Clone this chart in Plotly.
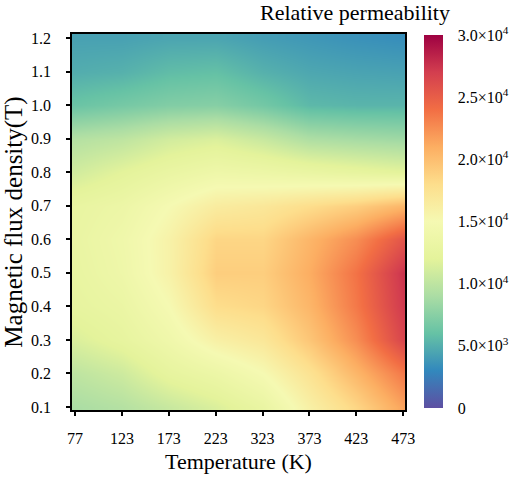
import plotly.graph_objects as go

temperatures = ["77", "123", "173", "223", "323", "373", "423", "473"]
flux_density = [0.1, 0.2, 0.3, 0.4, 0.5, 0.6, 0.7, 0.8, 0.9, 1.0, 1.1, 1.2]

# relative permeability, rows = flux density (0.1 -> 1.2), columns = temperatures
perm_b01 = [9000, 9500, 10500, 11500, 13000, 16000, 18500, 21500]
perm_b02 = [10000, 10800, 12500, 13500, 15000, 17500, 20500, 23500]
perm_b03 = [11500, 12500, 14000, 16000, 17000, 19500, 22500, 26500]
perm_b04 = [12500, 13200, 15000, 18000, 18500, 20500, 23500, 27200]
perm_b05 = [12800, 13800, 15800, 19000, 19000, 21000, 23800, 27500]
perm_b06 = [13000, 14000, 15800, 18500, 18500, 20500, 22500, 25500]
perm_b07 = [12800, 13500, 15000, 16500, 17000, 18000, 19000, 20500]
perm_b08 = [11000, 12000, 13000, 13800, 13500, 13000, 12500, 12000]
perm_b09 = [9500, 10000, 11000, 11500, 10500, 9200, 8800, 8500]
perm_b10 = [6200, 6700, 7200, 7400, 6600, 5500, 5300, 5300]
perm_b11 = [4900, 5100, 5700, 5900, 5100, 4600, 4400, 4300]
perm_b12 = [4300, 4300, 4500, 4500, 4100, 3800, 3500, 3300]

z = [perm_b01, perm_b02, perm_b03, perm_b04, perm_b05, perm_b06,
     perm_b07, perm_b08, perm_b09, perm_b10, perm_b11, perm_b12]

cbar_vals = [0, 5000, 10000, 15000, 20000, 25000, 30000]
cbar_text = ["0", "5.0×10<sup>3</sup>", "1.0×10<sup>4</sup>", "1.5×10<sup>4</sup>",
             "2.0×10<sup>4</sup>", "2.5×10<sup>4</sup>", "3.0×10<sup>4</sup>"]

colorscale = [
    [0.0, "rgb(94,79,162)"],
    [0.1, "rgb(50,136,189)"],
    [0.2, "rgb(102,194,165)"],
    [0.3, "rgb(171,221,164)"],
    [0.4, "rgb(228,243,155)"],
    [0.5, "rgb(245,249,178)"],
    [0.6, "rgb(253,222,140)"],
    [0.7, "rgb(252,174,98)"],
    [0.8, "rgb(242,110,68)"],
    [0.9, "rgb(211,62,79)"],
    [1.0, "rgb(158,1,66)"],
]

xidx = list(range(len(temperatures)))
FF = "Liberation Serif, Times New Roman, serif"

fig = go.Figure(go.Heatmap(
    x=xidx, y=flux_density, z=z,
    zmin=0, zmax=30000, zsmooth="best",
    colorscale=colorscale,
    colorbar=dict(
        x=(424 - 72) / 333, xanchor="left", xpad=0,
        y=(410 - 408) / 376, yanchor="bottom", ypad=0,
        len=(408 - 35) / 376, lenmode="fraction",
        thickness=19, outlinewidth=0,
        tickvals=cbar_vals, ticktext=cbar_text,
        ticks="outside", ticklen=12, tickcolor="rgba(0,0,0,0)",
        tickfont=dict(family=FF, size=16, color="black"),
    ),
))

fig.update_layout(
    width=520, height=478,
    margin=dict(l=72, r=115, t=34, b=68, autoexpand=False),
    paper_bgcolor="white", plot_bgcolor="white",
    font=dict(family=FF, color="black"),
    xaxis=dict(
        range=[-0.064, 7.04], tickvals=xidx, ticktext=temperatures,
        ticks="outside", ticklen=4, tickwidth=1.5, tickcolor="black",
        ticklabelstandoff=9, automargin=False,
        showline=True, linecolor="black", linewidth=1.8, mirror=True,
        showgrid=False, zeroline=False,
        tickfont=dict(family=FF, size=16, color="black"),
        title=dict(text="Temperature (K)", font=dict(family=FF, size=22, color="black"), standoff=8),
    ),
    yaxis=dict(
        range=[0.091, 1.212], tickvals=flux_density,
        ticktext=[f"{v:.1f}" for v in flux_density],
        ticks="outside", ticklen=4, tickwidth=1.5, tickcolor="black",
        ticklabelstandoff=12, automargin=False,
        showline=True, linecolor="black", linewidth=1.8, mirror=True,
        showgrid=False, zeroline=False,
        tickfont=dict(family=FF, size=16, color="black"),
        title=dict(text="Magnetic flux density(T)", font=dict(family=FF, size=25, color="black"), standoff=3),
    ),
    annotations=[dict(
        text="Relative permeability", xref="paper", yref="paper",
        x=(355 - 72) / 333, y=1.0 + (34 - 13) / 376, xanchor="center", yanchor="middle",
        showarrow=False, font=dict(size=22, family=FF, color="black"),
    )],
)

fig.write_html("out.html")
